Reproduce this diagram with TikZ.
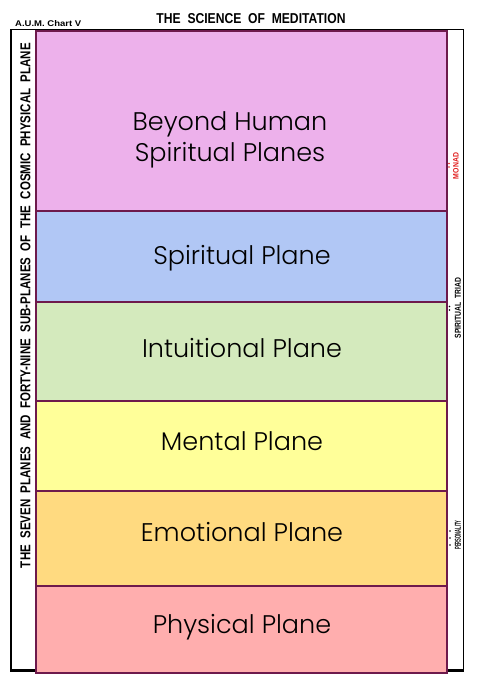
\documentclass[tikz,border=0pt]{standalone}
\usepackage{fontspec}
\setmainfont{Poppins}[UprightFont=* Light]
\newfontfamily\hdfont{Liberation Sans}
\usepackage{graphicx}
\definecolor{pinkc}{RGB}{237,177,235}
\definecolor{bluec}{RGB}{177,199,245}
\definecolor{greenc}{RGB}{212,234,189}
\definecolor{yellowc}{RGB}{255,255,153}
\definecolor{orangec}{RGB}{255,218,128}
\definecolor{redc}{RGB}{255,174,174}
\definecolor{maroonc}{RGB}{110,26,76}
\definecolor{monadred}{RGB}{225,30,30}
\tikzset{
  band/.style={draw=maroonc, line width=2pt, anchor=north west, minimum width=411pt, inner sep=0pt, outer sep=0pt},
  planelabel/.style={font=\fontsize{25.5}{31}\selectfont, inner sep=0pt, text=black},
  sidelabel/.style={rotate=90, inner sep=0pt, font=\hdfont\bfseries},
  frame/.style={draw=black, line width=1.4pt},
}
\begin{document}
\begin{tikzpicture}[x=1pt,y=-1pt]
\useasboundingbox (0,0) rectangle (482,697);
\fill[white] (0,0) rectangle (482,697);
% outer frame
\draw[frame] (11,670) -- (11,29.5) -- (463.5,29.5) -- (463.5,670);
\draw[draw=black, line width=3pt] (10.3,670) -- (464.2,670);
% header
\node[inner sep=0pt] (title) at (251,19) {\resizebox{189pt}{10pt}{\hdfont\bfseries THE~~SCIENCE~~OF~~MEDITATION}};
\node[inner sep=0pt, anchor=west] (chart) at (15,23.3) {\resizebox{66pt}{6pt}{\hdfont\bfseries A.U.M.~Chart~V}};
% bands
\node[band, fill=pinkc, minimum height=180pt] (beyond) at (36,31) {};
\node[band, fill=bluec, minimum height=91pt] (spiritual) at (36,211) {};
\node[band, fill=greenc, minimum height=99pt] (intuitional) at (36,302) {};
\node[band, fill=yellowc, minimum height=90pt] (mental) at (36,401) {};
\node[band, fill=orangec, minimum height=95pt] (emotional) at (36,491) {};
\node[band, fill=redc, minimum height=87pt] (physical) at (36,586) {};
% labels
\node[planelabel, align=center] (lbeyond) at (230,140) {Beyond Human\\Spiritual Planes};
\node[planelabel] (lspiritual) at (242,258.5) {Spiritual Plane};
\node[planelabel] (lintuitional) at (242,348) {Intuitional Plane};
\node[planelabel] (lmental) at (242,441) {Mental Plane};
\node[planelabel] (lemotional) at (242,532) {Emotional Plane};
\node[planelabel] (lphysical) at (242,627) {Physical Plane};
% left vertical title
\node[sidelabel] (lefttitle) at (25.5,305.5) {\resizebox{525pt}{10pt}{\hdfont\bfseries THE~~SEVEN~~PLANES~~AND~~FORTY-NINE~~SUB-PLANES~~OF~~THE~~COSMIC~~PHYSICAL~~PLANE}};
% right labels
\node[sidelabel] (monad) at (456,166) {\resizebox{26pt}{5.5pt}{\hdfont\bfseries\color{monadred}MONAD}};
\node[sidelabel] (triad) at (458,308) {\resizebox{60pt}{6pt}{\hdfont\bfseries SPIRITUAL~~TRIAD}};
\node[sidelabel] (personality) at (458,535) {\resizebox{29pt}{6pt}{\hdfont\bfseries PERSONALITY}};
% small tick marks
\fill[monadred] (449,163.5) circle (0.8pt) (449,167) circle (0.8pt);
\fill[black] (449.5,306.5) circle (0.8pt) (449.5,310) circle (0.8pt);
\fill[black] (450,531) circle (0.8pt) (450,538) circle (0.8pt) (450,545) circle (0.8pt);
\end{tikzpicture}
\end{document}
